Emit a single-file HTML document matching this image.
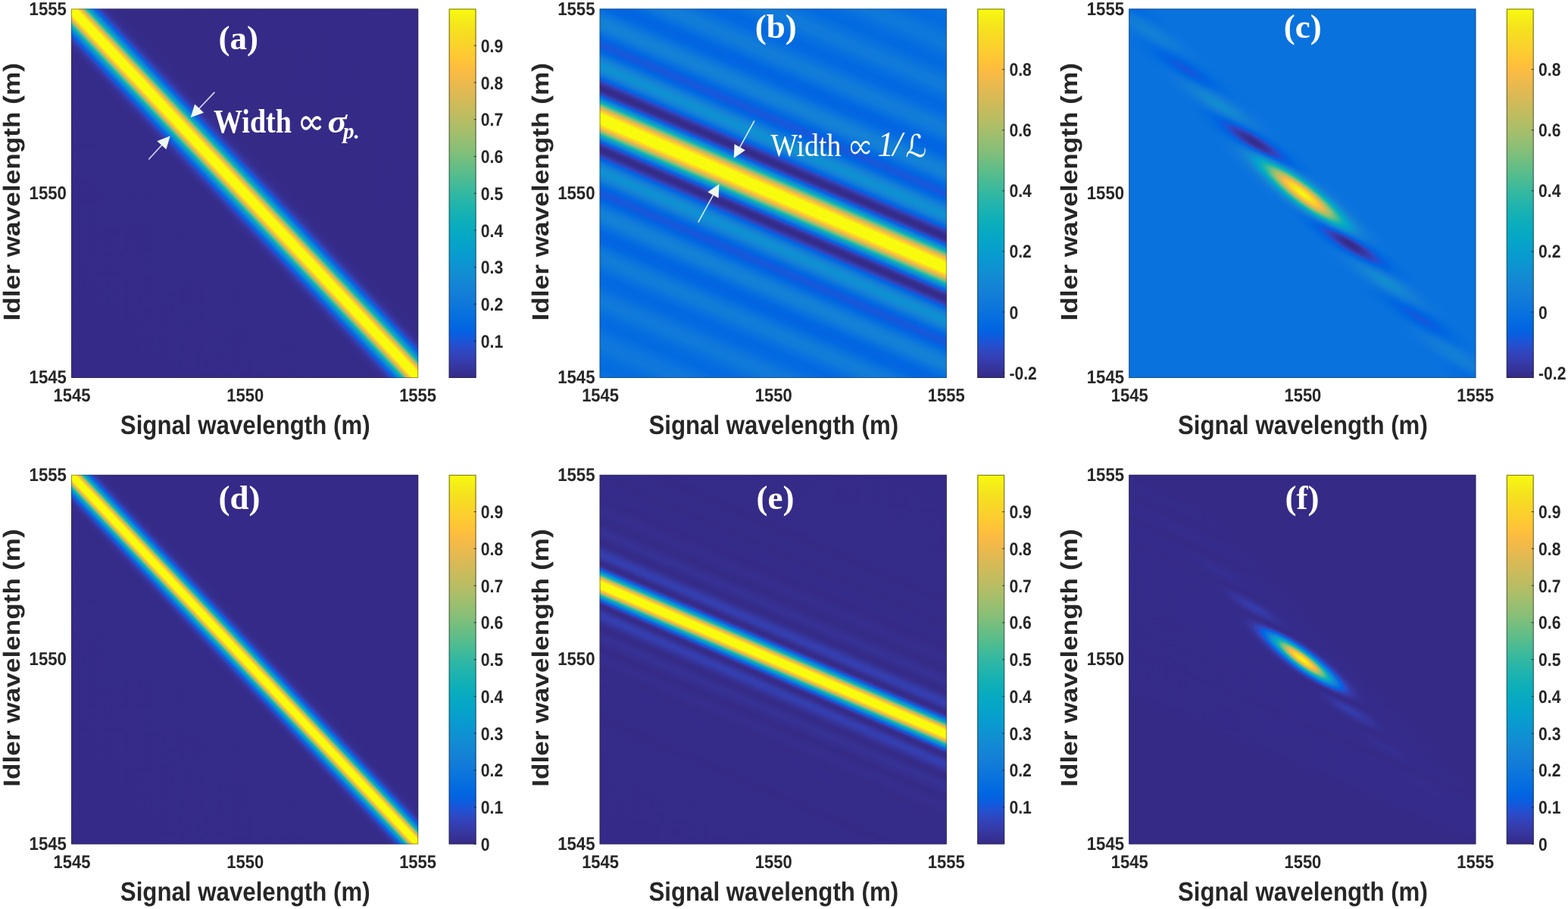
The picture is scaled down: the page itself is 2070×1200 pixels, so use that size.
<!DOCTYPE html>
<html><head><meta charset="utf-8"><title>JSA figure</title>
<style>html,body{margin:0;padding:0;background:#fff;width:2070px;height:1200px;overflow:hidden;}svg{display:block;}</style>
</head><body>
<svg width="2070" height="1200" viewBox="0 0 2070 1200">
<defs><linearGradient id="ga" gradientUnits="userSpaceOnUse" x1="79.57" y1="484.14" x2="566.63" y2="26.36"><stop offset="0.0000" stop-color="#352a87"/><stop offset="0.4401" stop-color="#352b88"/><stop offset="0.4488" stop-color="#362e8e"/><stop offset="0.4538" stop-color="#363399"/><stop offset="0.4578" stop-color="#353ba9"/><stop offset="0.4608" stop-color="#3045bd"/><stop offset="0.4622" stop-color="#2a4bc8"/><stop offset="0.4635" stop-color="#1e54d5"/><stop offset="0.4648" stop-color="#0c5ede"/><stop offset="0.4655" stop-color="#0462e1"/><stop offset="0.4665" stop-color="#0268e1"/><stop offset="0.4685" stop-color="#0a72de"/><stop offset="0.4708" stop-color="#137fd6"/><stop offset="0.4722" stop-color="#1389d3"/><stop offset="0.4745" stop-color="#079dcf"/><stop offset="0.4762" stop-color="#06a8c4"/><stop offset="0.4768" stop-color="#0aacbd"/><stop offset="0.4778" stop-color="#18b1b2"/><stop offset="0.4792" stop-color="#32b8a1"/><stop offset="0.4805" stop-color="#55bd8e"/><stop offset="0.4822" stop-color="#85bf78"/><stop offset="0.4842" stop-color="#b6bd64"/><stop offset="0.4868" stop-color="#edb94c"/><stop offset="0.4875" stop-color="#f9bb43"/><stop offset="0.4878" stop-color="#fdbe3e"/><stop offset="0.4888" stop-color="#fdca31"/><stop offset="0.4908" stop-color="#f5e11f"/><stop offset="0.4922" stop-color="#f6f213"/><stop offset="0.4928" stop-color="#f9fb0e"/><stop offset="0.5072" stop-color="#f9fb0e"/><stop offset="0.5088" stop-color="#f5e51c"/><stop offset="0.5108" stop-color="#fccd2e"/><stop offset="0.5118" stop-color="#fec239"/><stop offset="0.5122" stop-color="#fdbe3e"/><stop offset="0.5128" stop-color="#f3ba48"/><stop offset="0.5155" stop-color="#bebc61"/><stop offset="0.5175" stop-color="#8ebf74"/><stop offset="0.5192" stop-color="#5fbe89"/><stop offset="0.5205" stop-color="#3ab99d"/><stop offset="0.5218" stop-color="#1db3af"/><stop offset="0.5228" stop-color="#0eaeba"/><stop offset="0.5235" stop-color="#08aac1"/><stop offset="0.5248" stop-color="#06a2cb"/><stop offset="0.5262" stop-color="#0998d1"/><stop offset="0.5278" stop-color="#1389d3"/><stop offset="0.5295" stop-color="#137dd8"/><stop offset="0.5332" stop-color="#026ae1"/><stop offset="0.5342" stop-color="#0364e1"/><stop offset="0.5345" stop-color="#0462e1"/><stop offset="0.5355" stop-color="#105bdd"/><stop offset="0.5368" stop-color="#2251d2"/><stop offset="0.5382" stop-color="#2c4ac5"/><stop offset="0.5402" stop-color="#3341b5"/><stop offset="0.5435" stop-color="#3638a2"/><stop offset="0.5478" stop-color="#363194"/><stop offset="0.5542" stop-color="#352c8b"/><stop offset="0.5675" stop-color="#352b87"/><stop offset="1.0000" stop-color="#352a87"/></linearGradient>
<linearGradient id="gb" gradientUnits="userSpaceOnUse" x1="896.06" y1="544.50" x2="1145.34" y2="-34.00"><stop offset="0.0000" stop-color="#0c74dd"/><stop offset="0.0230" stop-color="#046ce0"/><stop offset="0.0400" stop-color="#066fdf"/><stop offset="0.0630" stop-color="#1078da"/><stop offset="0.0790" stop-color="#0e76dc"/><stop offset="0.1034" stop-color="#036be0"/><stop offset="0.1177" stop-color="#046ce0"/><stop offset="0.1447" stop-color="#107ada"/><stop offset="0.1591" stop-color="#1078da"/><stop offset="0.1841" stop-color="#036ae1"/><stop offset="0.1967" stop-color="#0269e1"/><stop offset="0.2094" stop-color="#0870df"/><stop offset="0.2247" stop-color="#117bd9"/><stop offset="0.2374" stop-color="#127cd8"/><stop offset="0.2497" stop-color="#0c75dc"/><stop offset="0.2628" stop-color="#0269e1"/><stop offset="0.2741" stop-color="#0364e1"/><stop offset="0.2848" stop-color="#0269e1"/><stop offset="0.2948" stop-color="#0a73dd"/><stop offset="0.3051" stop-color="#137dd8"/><stop offset="0.3161" stop-color="#1482d5"/><stop offset="0.3264" stop-color="#127cd8"/><stop offset="0.3351" stop-color="#0a72de"/><stop offset="0.3424" stop-color="#0268e1"/><stop offset="0.3464" stop-color="#0462e1"/><stop offset="0.3541" stop-color="#1558da"/><stop offset="0.3585" stop-color="#1758d9"/><stop offset="0.3631" stop-color="#0f5cde"/><stop offset="0.3678" stop-color="#0363e1"/><stop offset="0.3718" stop-color="#036ae1"/><stop offset="0.3828" stop-color="#137dd7"/><stop offset="0.3895" stop-color="#1389d3"/><stop offset="0.3968" stop-color="#0e90d2"/><stop offset="0.4031" stop-color="#108fd2"/><stop offset="0.4111" stop-color="#1481d5"/><stop offset="0.4158" stop-color="#0e77db"/><stop offset="0.4211" stop-color="#0268e1"/><stop offset="0.4225" stop-color="#0363e1"/><stop offset="0.4245" stop-color="#1359db"/><stop offset="0.4261" stop-color="#2450d0"/><stop offset="0.4278" stop-color="#2e48c2"/><stop offset="0.4301" stop-color="#343fb1"/><stop offset="0.4341" stop-color="#363399"/><stop offset="0.4378" stop-color="#352c8b"/><stop offset="0.4411" stop-color="#352a87"/><stop offset="0.4445" stop-color="#352d8c"/><stop offset="0.4475" stop-color="#363399"/><stop offset="0.4505" stop-color="#353eae"/><stop offset="0.4525" stop-color="#2e48c2"/><stop offset="0.4538" stop-color="#2251d1"/><stop offset="0.4552" stop-color="#0e5cde"/><stop offset="0.4562" stop-color="#0364e1"/><stop offset="0.4572" stop-color="#0269e1"/><stop offset="0.4605" stop-color="#127bd9"/><stop offset="0.4622" stop-color="#1486d4"/><stop offset="0.4635" stop-color="#0f90d2"/><stop offset="0.4648" stop-color="#079bd0"/><stop offset="0.4668" stop-color="#06a7c5"/><stop offset="0.4678" stop-color="#0aacbe"/><stop offset="0.4692" stop-color="#19b2b2"/><stop offset="0.4708" stop-color="#33b8a1"/><stop offset="0.4728" stop-color="#5dbe8a"/><stop offset="0.4752" stop-color="#8fbf74"/><stop offset="0.4778" stop-color="#bdbd61"/><stop offset="0.4815" stop-color="#f2b949"/><stop offset="0.4825" stop-color="#fcbd3f"/><stop offset="0.4835" stop-color="#fec536"/><stop offset="0.4875" stop-color="#f5e41d"/><stop offset="0.4898" stop-color="#f8f810"/><stop offset="0.4902" stop-color="#f9fb0e"/><stop offset="0.5098" stop-color="#f9fb0e"/><stop offset="0.5122" stop-color="#f5e71b"/><stop offset="0.5145" stop-color="#f9d429"/><stop offset="0.5168" stop-color="#fec239"/><stop offset="0.5178" stop-color="#f9bb43"/><stop offset="0.5195" stop-color="#e4b951"/><stop offset="0.5228" stop-color="#b2bd66"/><stop offset="0.5252" stop-color="#88bf76"/><stop offset="0.5275" stop-color="#55bd8d"/><stop offset="0.5292" stop-color="#33b8a1"/><stop offset="0.5308" stop-color="#19b2b2"/><stop offset="0.5322" stop-color="#0aacbe"/><stop offset="0.5332" stop-color="#06a7c5"/><stop offset="0.5352" stop-color="#079bd0"/><stop offset="0.5375" stop-color="#1388d3"/><stop offset="0.5392" stop-color="#137dd8"/><stop offset="0.5425" stop-color="#036be0"/><stop offset="0.5435" stop-color="#0266e1"/><stop offset="0.5442" stop-color="#0661e0"/><stop offset="0.5452" stop-color="#1359db"/><stop offset="0.5462" stop-color="#2251d1"/><stop offset="0.5475" stop-color="#2e48c2"/><stop offset="0.5495" stop-color="#353eae"/><stop offset="0.5525" stop-color="#363399"/><stop offset="0.5555" stop-color="#352d8c"/><stop offset="0.5589" stop-color="#352a87"/><stop offset="0.5622" stop-color="#352c8b"/><stop offset="0.5659" stop-color="#363399"/><stop offset="0.5699" stop-color="#343fb1"/><stop offset="0.5722" stop-color="#2e48c2"/><stop offset="0.5739" stop-color="#2450d0"/><stop offset="0.5755" stop-color="#1359db"/><stop offset="0.5775" stop-color="#0363e1"/><stop offset="0.5795" stop-color="#036ae1"/><stop offset="0.5862" stop-color="#127cd9"/><stop offset="0.5912" stop-color="#1486d4"/><stop offset="0.5982" stop-color="#0f90d2"/><stop offset="0.6045" stop-color="#0f90d2"/><stop offset="0.6135" stop-color="#1484d4"/><stop offset="0.6202" stop-color="#0f78db"/><stop offset="0.6285" stop-color="#026ae1"/><stop offset="0.6329" stop-color="#0462e1"/><stop offset="0.6399" stop-color="#1559da"/><stop offset="0.6442" stop-color="#1758d9"/><stop offset="0.6489" stop-color="#105cdd"/><stop offset="0.6546" stop-color="#0364e1"/><stop offset="0.6589" stop-color="#036ae1"/><stop offset="0.6726" stop-color="#127bd9"/><stop offset="0.6832" stop-color="#1482d5"/><stop offset="0.6939" stop-color="#137ed7"/><stop offset="0.7042" stop-color="#0c74dd"/><stop offset="0.7146" stop-color="#026ae1"/><stop offset="0.7252" stop-color="#0364e1"/><stop offset="0.7359" stop-color="#0268e1"/><stop offset="0.7479" stop-color="#0a73de"/><stop offset="0.7599" stop-color="#127bd9"/><stop offset="0.7723" stop-color="#127cd8"/><stop offset="0.7856" stop-color="#0c74dd"/><stop offset="0.7999" stop-color="#036ae1"/><stop offset="0.8126" stop-color="#0269e1"/><stop offset="0.8266" stop-color="#0770df"/><stop offset="0.8429" stop-color="#1079da"/><stop offset="0.8573" stop-color="#1079da"/><stop offset="0.8853" stop-color="#036be0"/><stop offset="0.9000" stop-color="#046ce0"/><stop offset="0.9270" stop-color="#0f78da"/><stop offset="0.9430" stop-color="#0e77db"/><stop offset="0.9693" stop-color="#046ce0"/><stop offset="0.9867" stop-color="#066fdf"/><stop offset="1.0000" stop-color="#0c74dd"/></linearGradient>
<linearGradient id="gcA" gradientUnits="userSpaceOnUse" x1="1475.77" y1="484.14" x2="1962.83" y2="26.36"><stop offset="0.0000" stop-color="#000000"/><stop offset="0.4425" stop-color="#010101"/><stop offset="0.4518" stop-color="#040404"/><stop offset="0.4575" stop-color="#090909"/><stop offset="0.4618" stop-color="#121212"/><stop offset="0.4655" stop-color="#1d1d1d"/><stop offset="0.4688" stop-color="#2b2b2b"/><stop offset="0.4722" stop-color="#3e3e3e"/><stop offset="0.4755" stop-color="#555555"/><stop offset="0.4792" stop-color="#747474"/><stop offset="0.4882" stop-color="#c6c6c6"/><stop offset="0.4912" stop-color="#dddddd"/><stop offset="0.4938" stop-color="#eeeeee"/><stop offset="0.4962" stop-color="#f8f8f8"/><stop offset="0.4985" stop-color="#fefefe"/><stop offset="0.5005" stop-color="#ffffff"/><stop offset="0.5025" stop-color="#fcfcfc"/><stop offset="0.5048" stop-color="#f4f4f4"/><stop offset="0.5072" stop-color="#e8e8e8"/><stop offset="0.5098" stop-color="#d6d6d6"/><stop offset="0.5132" stop-color="#bababa"/><stop offset="0.5215" stop-color="#6e6e6e"/><stop offset="0.5252" stop-color="#505050"/><stop offset="0.5285" stop-color="#3a3a3a"/><stop offset="0.5318" stop-color="#282828"/><stop offset="0.5352" stop-color="#1b1b1b"/><stop offset="0.5388" stop-color="#101010"/><stop offset="0.5435" stop-color="#080808"/><stop offset="0.5495" stop-color="#030303"/><stop offset="0.5602" stop-color="#000000"/><stop offset="1.0000" stop-color="#000000"/></linearGradient>
<linearGradient id="gcB" gradientUnits="userSpaceOnUse" x1="1594.66" y1="544.50" x2="1843.94" y2="-34.00"><stop offset="0.0000" stop-color="#35ffff"/><stop offset="0.0210" stop-color="#2effff"/><stop offset="0.0330" stop-color="#2effff"/><stop offset="0.0524" stop-color="#35ffff"/><stop offset="0.0657" stop-color="#39ffff"/><stop offset="0.0774" stop-color="#38ffff"/><stop offset="0.1030" stop-color="#2dffff"/><stop offset="0.1140" stop-color="#2dffff"/><stop offset="0.1274" stop-color="#32ffff"/><stop offset="0.1437" stop-color="#3affff"/><stop offset="0.1541" stop-color="#3affff"/><stop offset="0.1657" stop-color="#36ffff"/><stop offset="0.1841" stop-color="#2cffff"/><stop offset="0.1937" stop-color="#2affff"/><stop offset="0.2041" stop-color="#2effff"/><stop offset="0.2251" stop-color="#3bffff"/><stop offset="0.2344" stop-color="#3dffff"/><stop offset="0.2437" stop-color="#3affff"/><stop offset="0.2661" stop-color="#29ffff"/><stop offset="0.2748" stop-color="#27ffff"/><stop offset="0.2831" stop-color="#2affff"/><stop offset="0.2944" stop-color="#33ffff"/><stop offset="0.3071" stop-color="#3fffff"/><stop offset="0.3148" stop-color="#41ffff"/><stop offset="0.3221" stop-color="#40ffff"/><stop offset="0.3304" stop-color="#39ffff"/><stop offset="0.3471" stop-color="#25ffff"/><stop offset="0.3545" stop-color="#21ffff"/><stop offset="0.3608" stop-color="#21ffff"/><stop offset="0.3675" stop-color="#26ffff"/><stop offset="0.3758" stop-color="#32ffff"/><stop offset="0.3881" stop-color="#46ffff"/><stop offset="0.3945" stop-color="#4cffff"/><stop offset="0.4001" stop-color="#4dffff"/><stop offset="0.4055" stop-color="#4affff"/><stop offset="0.4111" stop-color="#41ffff"/><stop offset="0.4181" stop-color="#32ffff"/><stop offset="0.4298" stop-color="#14ffff"/><stop offset="0.4351" stop-color="#0bffff"/><stop offset="0.4395" stop-color="#07ffff"/><stop offset="0.4435" stop-color="#07ffff"/><stop offset="0.4475" stop-color="#0cffff"/><stop offset="0.4515" stop-color="#16ffff"/><stop offset="0.4555" stop-color="#24ffff"/><stop offset="0.4598" stop-color="#38ffff"/><stop offset="0.4645" stop-color="#53ffff"/><stop offset="0.4715" stop-color="#80ffff"/><stop offset="0.4798" stop-color="#b8ffff"/><stop offset="0.4845" stop-color="#d3ffff"/><stop offset="0.4885" stop-color="#e6ffff"/><stop offset="0.4922" stop-color="#f3ffff"/><stop offset="0.4955" stop-color="#fbffff"/><stop offset="0.4988" stop-color="#ffffff"/><stop offset="0.5022" stop-color="#feffff"/><stop offset="0.5055" stop-color="#f9ffff"/><stop offset="0.5092" stop-color="#efffff"/><stop offset="0.5128" stop-color="#e0ffff"/><stop offset="0.5172" stop-color="#c9ffff"/><stop offset="0.5225" stop-color="#a9ffff"/><stop offset="0.5342" stop-color="#5bffff"/><stop offset="0.5392" stop-color="#3dffff"/><stop offset="0.5435" stop-color="#28ffff"/><stop offset="0.5475" stop-color="#19ffff"/><stop offset="0.5515" stop-color="#0effff"/><stop offset="0.5555" stop-color="#08ffff"/><stop offset="0.5595" stop-color="#07ffff"/><stop offset="0.5639" stop-color="#0affff"/><stop offset="0.5689" stop-color="#12ffff"/><stop offset="0.5765" stop-color="#24ffff"/><stop offset="0.5862" stop-color="#3cffff"/><stop offset="0.5922" stop-color="#47ffff"/><stop offset="0.5975" stop-color="#4cffff"/><stop offset="0.6029" stop-color="#4dffff"/><stop offset="0.6089" stop-color="#49ffff"/><stop offset="0.6165" stop-color="#3fffff"/><stop offset="0.6299" stop-color="#29ffff"/><stop offset="0.6369" stop-color="#22ffff"/><stop offset="0.6432" stop-color="#20ffff"/><stop offset="0.6499" stop-color="#23ffff"/><stop offset="0.6589" stop-color="#2cffff"/><stop offset="0.6729" stop-color="#3cffff"/><stop offset="0.6806" stop-color="#41ffff"/><stop offset="0.6879" stop-color="#41ffff"/><stop offset="0.6966" stop-color="#3cffff"/><stop offset="0.7152" stop-color="#2bffff"/><stop offset="0.7236" stop-color="#27ffff"/><stop offset="0.7319" stop-color="#28ffff"/><stop offset="0.7429" stop-color="#2fffff"/><stop offset="0.7576" stop-color="#3affff"/><stop offset="0.7666" stop-color="#3dffff"/><stop offset="0.7759" stop-color="#3bffff"/><stop offset="0.7999" stop-color="#2cffff"/><stop offset="0.8096" stop-color="#2affff"/><stop offset="0.8203" stop-color="#2effff"/><stop offset="0.8413" stop-color="#39ffff"/><stop offset="0.8516" stop-color="#3bffff"/><stop offset="0.8633" stop-color="#37ffff"/><stop offset="0.8833" stop-color="#2dffff"/><stop offset="0.8943" stop-color="#2cffff"/><stop offset="0.9076" stop-color="#31ffff"/><stop offset="0.9253" stop-color="#38ffff"/><stop offset="0.9366" stop-color="#39ffff"/><stop offset="0.9520" stop-color="#34ffff"/><stop offset="0.9680" stop-color="#2effff"/><stop offset="0.9800" stop-color="#2effff"/><stop offset="1.0000" stop-color="#35ffff"/></linearGradient>
<filter id="fc" filterUnits="userSpaceOnUse" x="1487.00" y="8.00" width="465.00" height="494.00" color-interpolation-filters="sRGB"><feColorMatrix type="matrix" values="1.02692 -0.20538 0 0 0.17847 1.02692 -0.20538 0 0 0.17847 1.02692 -0.20538 0 0 0.17847 0 0 0 1 0"/><feComponentTransfer><feFuncR type="table" tableValues="0.2081 0.2116 0.2123 0.2081 0.1959 0.1707 0.1253 0.0591 0.0117 0.0060 0.0165 0.0329 0.0498 0.0629 0.0723 0.0779 0.0793 0.0749 0.0641 0.0488 0.0343 0.0265 0.0239 0.0231 0.0228 0.0267 0.0384 0.0590 0.0843 0.1133 0.1453 0.1801 0.2178 0.2586 0.3022 0.3482 0.3953 0.4420 0.4871 0.5300 0.5709 0.6099 0.6473 0.6834 0.7184 0.7525 0.7858 0.8185 0.8507 0.8824 0.9139 0.9450 0.9739 0.9938 0.9990 0.9955 0.9880 0.9789 0.9697 0.9626 0.9589 0.9598 0.9661 0.9763"/><feFuncG type="table" tableValues="0.1663 0.1898 0.2138 0.2386 0.2645 0.2919 0.3242 0.3598 0.3875 0.4086 0.4266 0.4430 0.4586 0.4737 0.4887 0.5040 0.5200 0.5375 0.5570 0.5772 0.5966 0.6137 0.6287 0.6418 0.6535 0.6642 0.6743 0.6838 0.6928 0.7015 0.7098 0.7177 0.7250 0.7317 0.7376 0.7424 0.7459 0.7481 0.7491 0.7491 0.7485 0.7473 0.7456 0.7435 0.7411 0.7384 0.7356 0.7327 0.7299 0.7274 0.7258 0.7261 0.7314 0.7455 0.7653 0.7861 0.8066 0.8271 0.8481 0.8705 0.8949 0.9218 0.9514 0.9831"/><feFuncB type="table" tableValues="0.5292 0.5777 0.6270 0.6771 0.7279 0.7792 0.8303 0.8683 0.8820 0.8828 0.8786 0.8720 0.8641 0.8554 0.8467 0.8384 0.8312 0.8263 0.8240 0.8228 0.8199 0.8135 0.8038 0.7913 0.7768 0.7607 0.7436 0.7254 0.7062 0.6859 0.6646 0.6424 0.6193 0.5954 0.5712 0.5473 0.5244 0.5033 0.4840 0.4661 0.4494 0.4337 0.4188 0.4044 0.3905 0.3768 0.3633 0.3498 0.3360 0.3217 0.3063 0.2886 0.2666 0.2403 0.2164 0.1967 0.1794 0.1633 0.1475 0.1309 0.1132 0.0948 0.0755 0.0538"/></feComponentTransfer></filter>
<clipPath id="cpc"><rect x="1490.20" y="11.50" width="458.20" height="487.50"/></clipPath>
<linearGradient id="gd" gradientUnits="userSpaceOnUse" x1="79.48" y1="1099.53" x2="566.72" y2="641.77"><stop offset="0.0000" stop-color="#352a87"/><stop offset="0.4542" stop-color="#352b88"/><stop offset="0.4608" stop-color="#362e8e"/><stop offset="0.4648" stop-color="#363399"/><stop offset="0.4678" stop-color="#353ba9"/><stop offset="0.4702" stop-color="#3045bd"/><stop offset="0.4712" stop-color="#2a4cc9"/><stop offset="0.4722" stop-color="#1e54d5"/><stop offset="0.4732" stop-color="#0c5ede"/><stop offset="0.4738" stop-color="#0364e1"/><stop offset="0.4745" stop-color="#0268e1"/><stop offset="0.4762" stop-color="#0b74dd"/><stop offset="0.4778" stop-color="#1480d6"/><stop offset="0.4788" stop-color="#1389d3"/><stop offset="0.4805" stop-color="#079dcf"/><stop offset="0.4818" stop-color="#06a8c3"/><stop offset="0.4825" stop-color="#0dadbb"/><stop offset="0.4835" stop-color="#22b4ac"/><stop offset="0.4845" stop-color="#3fba9a"/><stop offset="0.4862" stop-color="#7dbf7b"/><stop offset="0.4875" stop-color="#aabe69"/><stop offset="0.4895" stop-color="#e2b952"/><stop offset="0.4902" stop-color="#f3b948"/><stop offset="0.4905" stop-color="#fabb42"/><stop offset="0.4908" stop-color="#fec03c"/><stop offset="0.4915" stop-color="#fdca31"/><stop offset="0.4932" stop-color="#f5e31d"/><stop offset="0.4942" stop-color="#f7f512"/><stop offset="0.4945" stop-color="#f9fb0e"/><stop offset="0.5055" stop-color="#f9fb0e"/><stop offset="0.5065" stop-color="#f5e919"/><stop offset="0.5075" stop-color="#f7d925"/><stop offset="0.5088" stop-color="#fec536"/><stop offset="0.5092" stop-color="#fec03c"/><stop offset="0.5095" stop-color="#fabb42"/><stop offset="0.5102" stop-color="#eab94d"/><stop offset="0.5122" stop-color="#b4bd65"/><stop offset="0.5135" stop-color="#89bf76"/><stop offset="0.5148" stop-color="#57bd8d"/><stop offset="0.5158" stop-color="#34b8a0"/><stop offset="0.5168" stop-color="#1ab2b1"/><stop offset="0.5175" stop-color="#0dadbb"/><stop offset="0.5182" stop-color="#06a8c3"/><stop offset="0.5195" stop-color="#079dcf"/><stop offset="0.5212" stop-color="#1389d3"/><stop offset="0.5222" stop-color="#1480d6"/><stop offset="0.5238" stop-color="#0b74dd"/><stop offset="0.5255" stop-color="#0268e1"/><stop offset="0.5262" stop-color="#0364e1"/><stop offset="0.5272" stop-color="#115bdc"/><stop offset="0.5282" stop-color="#2251d1"/><stop offset="0.5292" stop-color="#2d49c5"/><stop offset="0.5308" stop-color="#3340b4"/><stop offset="0.5335" stop-color="#3637a1"/><stop offset="0.5368" stop-color="#363093"/><stop offset="0.5418" stop-color="#352c8b"/><stop offset="0.5532" stop-color="#352a87"/><stop offset="1.0000" stop-color="#352a87"/></linearGradient>
<linearGradient id="ge" gradientUnits="userSpaceOnUse" x1="895.98" y1="1159.98" x2="1145.42" y2="581.32"><stop offset="0.0000" stop-color="#352a87"/><stop offset="0.1861" stop-color="#352b88"/><stop offset="0.2231" stop-color="#352b88"/><stop offset="0.2461" stop-color="#352b87"/><stop offset="0.2678" stop-color="#352b89"/><stop offset="0.2871" stop-color="#352b88"/><stop offset="0.3031" stop-color="#352b88"/><stop offset="0.3194" stop-color="#352c8b"/><stop offset="0.3381" stop-color="#352b87"/><stop offset="0.3581" stop-color="#362e8e"/><stop offset="0.3775" stop-color="#352a87"/><stop offset="0.3875" stop-color="#362e8d"/><stop offset="0.3978" stop-color="#363195"/><stop offset="0.4055" stop-color="#363091"/><stop offset="0.4165" stop-color="#352a87"/><stop offset="0.4221" stop-color="#352c8a"/><stop offset="0.4285" stop-color="#363297"/><stop offset="0.4371" stop-color="#353dad"/><stop offset="0.4415" stop-color="#343fb0"/><stop offset="0.4458" stop-color="#353cab"/><stop offset="0.4528" stop-color="#363194"/><stop offset="0.4572" stop-color="#352b88"/><stop offset="0.4602" stop-color="#352b88"/><stop offset="0.4625" stop-color="#362e8f"/><stop offset="0.4648" stop-color="#36369e"/><stop offset="0.4668" stop-color="#3341b4"/><stop offset="0.4682" stop-color="#2b4bc7"/><stop offset="0.4688" stop-color="#2152d2"/><stop offset="0.4698" stop-color="#0c5ede"/><stop offset="0.4702" stop-color="#0661e0"/><stop offset="0.4705" stop-color="#0364e1"/><stop offset="0.4712" stop-color="#036ae1"/><stop offset="0.4735" stop-color="#127cd8"/><stop offset="0.4745" stop-color="#1484d4"/><stop offset="0.4755" stop-color="#108fd2"/><stop offset="0.4765" stop-color="#089ad0"/><stop offset="0.4778" stop-color="#06a6c7"/><stop offset="0.4785" stop-color="#09abbf"/><stop offset="0.4792" stop-color="#12afb7"/><stop offset="0.4802" stop-color="#27b5a8"/><stop offset="0.4812" stop-color="#42bb98"/><stop offset="0.4828" stop-color="#79bf7d"/><stop offset="0.4842" stop-color="#a0be6d"/><stop offset="0.4862" stop-color="#d2bb59"/><stop offset="0.4878" stop-color="#f5ba47"/><stop offset="0.4885" stop-color="#febf3c"/><stop offset="0.4892" stop-color="#fec833"/><stop offset="0.4912" stop-color="#f5e11f"/><stop offset="0.4925" stop-color="#f7f313"/><stop offset="0.4932" stop-color="#f9fb0e"/><stop offset="0.5068" stop-color="#f9fb0e"/><stop offset="0.5075" stop-color="#f7f313"/><stop offset="0.5088" stop-color="#f5e11f"/><stop offset="0.5112" stop-color="#ffc437"/><stop offset="0.5115" stop-color="#febf3c"/><stop offset="0.5122" stop-color="#f5ba47"/><stop offset="0.5138" stop-color="#d2bb59"/><stop offset="0.5158" stop-color="#a0be6d"/><stop offset="0.5172" stop-color="#79bf7d"/><stop offset="0.5188" stop-color="#42bb98"/><stop offset="0.5198" stop-color="#27b5a8"/><stop offset="0.5208" stop-color="#12afb7"/><stop offset="0.5215" stop-color="#09abbf"/><stop offset="0.5222" stop-color="#06a6c7"/><stop offset="0.5235" stop-color="#089ad0"/><stop offset="0.5252" stop-color="#1487d3"/><stop offset="0.5262" stop-color="#137ed7"/><stop offset="0.5278" stop-color="#0972de"/><stop offset="0.5288" stop-color="#036ae1"/><stop offset="0.5295" stop-color="#0364e1"/><stop offset="0.5298" stop-color="#0661e0"/><stop offset="0.5305" stop-color="#135adb"/><stop offset="0.5312" stop-color="#2152d2"/><stop offset="0.5318" stop-color="#2b4bc7"/><stop offset="0.5332" stop-color="#3341b4"/><stop offset="0.5352" stop-color="#36369e"/><stop offset="0.5375" stop-color="#362e8f"/><stop offset="0.5402" stop-color="#352b87"/><stop offset="0.5432" stop-color="#352b89"/><stop offset="0.5482" stop-color="#363297"/><stop offset="0.5542" stop-color="#353cab"/><stop offset="0.5585" stop-color="#343fb0"/><stop offset="0.5632" stop-color="#353dac"/><stop offset="0.5762" stop-color="#352d8c"/><stop offset="0.5819" stop-color="#352a87"/><stop offset="0.5892" stop-color="#352d8c"/><stop offset="0.5995" stop-color="#363195"/><stop offset="0.6075" stop-color="#363092"/><stop offset="0.6209" stop-color="#352b87"/><stop offset="0.6312" stop-color="#352c8a"/><stop offset="0.6439" stop-color="#362e8e"/><stop offset="0.6656" stop-color="#352a87"/><stop offset="0.6876" stop-color="#352c8b"/><stop offset="0.7092" stop-color="#352b87"/><stop offset="0.7312" stop-color="#352c89"/><stop offset="0.7536" stop-color="#352b87"/><stop offset="0.7766" stop-color="#352b88"/><stop offset="0.8019" stop-color="#352b88"/><stop offset="1.0000" stop-color="#352a87"/></linearGradient>
<linearGradient id="gfA" gradientUnits="userSpaceOnUse" x1="1475.68" y1="1099.53" x2="1962.92" y2="641.77"><stop offset="0.0000" stop-color="#000000"/><stop offset="0.4562" stop-color="#010101"/><stop offset="0.4632" stop-color="#040404"/><stop offset="0.4675" stop-color="#090909"/><stop offset="0.4708" stop-color="#121212"/><stop offset="0.4735" stop-color="#1c1c1c"/><stop offset="0.4762" stop-color="#2b2b2b"/><stop offset="0.4785" stop-color="#3c3c3c"/><stop offset="0.4808" stop-color="#515151"/><stop offset="0.4835" stop-color="#6d6d6d"/><stop offset="0.4878" stop-color="#a0a0a0"/><stop offset="0.4912" stop-color="#c8c8c8"/><stop offset="0.4935" stop-color="#dfdfdf"/><stop offset="0.4955" stop-color="#efefef"/><stop offset="0.4972" stop-color="#f9f9f9"/><stop offset="0.4988" stop-color="#fefefe"/><stop offset="0.5005" stop-color="#ffffff"/><stop offset="0.5022" stop-color="#fbfbfb"/><stop offset="0.5038" stop-color="#f4f4f4"/><stop offset="0.5055" stop-color="#e8e8e8"/><stop offset="0.5075" stop-color="#d6d6d6"/><stop offset="0.5102" stop-color="#b9b9b9"/><stop offset="0.5162" stop-color="#717171"/><stop offset="0.5188" stop-color="#545454"/><stop offset="0.5212" stop-color="#3f3f3f"/><stop offset="0.5235" stop-color="#2d2d2d"/><stop offset="0.5262" stop-color="#1e1e1e"/><stop offset="0.5288" stop-color="#131313"/><stop offset="0.5322" stop-color="#0a0a0a"/><stop offset="0.5362" stop-color="#040404"/><stop offset="0.5425" stop-color="#010101"/><stop offset="0.5769" stop-color="#000000"/><stop offset="1.0000" stop-color="#000000"/></linearGradient>
<linearGradient id="gfB" gradientUnits="userSpaceOnUse" x1="1594.58" y1="1159.98" x2="1844.02" y2="581.32"><stop offset="0.0000" stop-color="#000000"/><stop offset="0.2511" stop-color="#000000"/><stop offset="0.2848" stop-color="#000000"/><stop offset="0.3071" stop-color="#010101"/><stop offset="0.3268" stop-color="#010101"/><stop offset="0.3438" stop-color="#010101"/><stop offset="0.3608" stop-color="#020202"/><stop offset="0.3791" stop-color="#000000"/><stop offset="0.3991" stop-color="#040404"/><stop offset="0.4185" stop-color="#000000"/><stop offset="0.4261" stop-color="#030303"/><stop offset="0.4381" stop-color="#0b0b0b"/><stop offset="0.4438" stop-color="#0c0c0c"/><stop offset="0.4505" stop-color="#060606"/><stop offset="0.4572" stop-color="#000000"/><stop offset="0.4608" stop-color="#010101"/><stop offset="0.4638" stop-color="#050505"/><stop offset="0.4665" stop-color="#0c0c0c"/><stop offset="0.4692" stop-color="#171717"/><stop offset="0.4718" stop-color="#272727"/><stop offset="0.4745" stop-color="#3a3a3a"/><stop offset="0.4775" stop-color="#555555"/><stop offset="0.4818" stop-color="#808080"/><stop offset="0.4872" stop-color="#b7b7b7"/><stop offset="0.4902" stop-color="#d3d3d3"/><stop offset="0.4925" stop-color="#e4e4e4"/><stop offset="0.4948" stop-color="#f2f2f2"/><stop offset="0.4968" stop-color="#fafafa"/><stop offset="0.4988" stop-color="#fefefe"/><stop offset="0.5008" stop-color="#ffffff"/><stop offset="0.5028" stop-color="#fbfbfb"/><stop offset="0.5048" stop-color="#f4f4f4"/><stop offset="0.5072" stop-color="#e7e7e7"/><stop offset="0.5095" stop-color="#d5d5d5"/><stop offset="0.5125" stop-color="#bababa"/><stop offset="0.5178" stop-color="#848484"/><stop offset="0.5222" stop-color="#585858"/><stop offset="0.5252" stop-color="#3d3d3d"/><stop offset="0.5278" stop-color="#292929"/><stop offset="0.5305" stop-color="#191919"/><stop offset="0.5332" stop-color="#0d0d0d"/><stop offset="0.5358" stop-color="#050505"/><stop offset="0.5388" stop-color="#010101"/><stop offset="0.5425" stop-color="#000000"/><stop offset="0.5492" stop-color="#060606"/><stop offset="0.5559" stop-color="#0b0b0b"/><stop offset="0.5615" stop-color="#0c0c0c"/><stop offset="0.5712" stop-color="#050505"/><stop offset="0.5792" stop-color="#000000"/><stop offset="0.5875" stop-color="#010101"/><stop offset="0.6009" stop-color="#040404"/><stop offset="0.6162" stop-color="#010101"/><stop offset="0.6282" stop-color="#000000"/><stop offset="0.6459" stop-color="#020202"/><stop offset="0.6682" stop-color="#000000"/><stop offset="0.6909" stop-color="#010101"/><stop offset="0.7139" stop-color="#000000"/><stop offset="0.7399" stop-color="#000000"/><stop offset="1.0000" stop-color="#000000"/></linearGradient>
<filter id="ff" filterUnits="userSpaceOnUse" x="1487.00" y="623.00" width="465.00" height="495.00" color-interpolation-filters="sRGB"><feComponentTransfer><feFuncR type="table" tableValues="0.2081 0.2116 0.2123 0.2081 0.1959 0.1707 0.1253 0.0591 0.0117 0.0060 0.0165 0.0329 0.0498 0.0629 0.0723 0.0779 0.0793 0.0749 0.0641 0.0488 0.0343 0.0265 0.0239 0.0231 0.0228 0.0267 0.0384 0.0590 0.0843 0.1133 0.1453 0.1801 0.2178 0.2586 0.3022 0.3482 0.3953 0.4420 0.4871 0.5300 0.5709 0.6099 0.6473 0.6834 0.7184 0.7525 0.7858 0.8185 0.8507 0.8824 0.9139 0.9450 0.9739 0.9938 0.9990 0.9955 0.9880 0.9789 0.9697 0.9626 0.9589 0.9598 0.9661 0.9763"/><feFuncG type="table" tableValues="0.1663 0.1898 0.2138 0.2386 0.2645 0.2919 0.3242 0.3598 0.3875 0.4086 0.4266 0.4430 0.4586 0.4737 0.4887 0.5040 0.5200 0.5375 0.5570 0.5772 0.5966 0.6137 0.6287 0.6418 0.6535 0.6642 0.6743 0.6838 0.6928 0.7015 0.7098 0.7177 0.7250 0.7317 0.7376 0.7424 0.7459 0.7481 0.7491 0.7491 0.7485 0.7473 0.7456 0.7435 0.7411 0.7384 0.7356 0.7327 0.7299 0.7274 0.7258 0.7261 0.7314 0.7455 0.7653 0.7861 0.8066 0.8271 0.8481 0.8705 0.8949 0.9218 0.9514 0.9831"/><feFuncB type="table" tableValues="0.5292 0.5777 0.6270 0.6771 0.7279 0.7792 0.8303 0.8683 0.8820 0.8828 0.8786 0.8720 0.8641 0.8554 0.8467 0.8384 0.8312 0.8263 0.8240 0.8228 0.8199 0.8135 0.8038 0.7913 0.7768 0.7607 0.7436 0.7254 0.7062 0.6859 0.6646 0.6424 0.6193 0.5954 0.5712 0.5473 0.5244 0.5033 0.4840 0.4661 0.4494 0.4337 0.4188 0.4044 0.3905 0.3768 0.3633 0.3498 0.3360 0.3217 0.3063 0.2886 0.2666 0.2403 0.2164 0.1967 0.1794 0.1633 0.1475 0.1309 0.1132 0.0948 0.0755 0.0538"/></feComponentTransfer></filter>
<clipPath id="cpf"><rect x="1490.20" y="626.80" width="458.20" height="487.70"/></clipPath>
<linearGradient id="cbg" x1="0" y1="1" x2="0" y2="0"><stop offset="0.0000" stop-color="#352a87"/><stop offset="0.0401" stop-color="#363aa7"/><stop offset="0.0652" stop-color="#3144bb"/><stop offset="0.0827" stop-color="#294cc9"/><stop offset="0.0977" stop-color="#1d54d5"/><stop offset="0.1128" stop-color="#0e5cde"/><stop offset="0.1278" stop-color="#0363e1"/><stop offset="0.1454" stop-color="#0269e1"/><stop offset="0.1830" stop-color="#0b73dd"/><stop offset="0.2231" stop-color="#137dd8"/><stop offset="0.2581" stop-color="#1486d4"/><stop offset="0.2882" stop-color="#108fd2"/><stop offset="0.3258" stop-color="#089ad0"/><stop offset="0.3709" stop-color="#06a5c8"/><stop offset="0.4010" stop-color="#08aac1"/><stop offset="0.4236" stop-color="#0daeba"/><stop offset="0.4612" stop-color="#1db3af"/><stop offset="0.5088" stop-color="#38b99e"/><stop offset="0.5589" stop-color="#5bbd8a"/><stop offset="0.6190" stop-color="#87bf77"/><stop offset="0.6817" stop-color="#aebe67"/><stop offset="0.7794" stop-color="#e2b952"/><stop offset="0.8195" stop-color="#f6ba46"/><stop offset="0.8421" stop-color="#fdbe3d"/><stop offset="0.8647" stop-color="#fec635"/><stop offset="0.9474" stop-color="#f5e21e"/><stop offset="0.9799" stop-color="#f6f115"/><stop offset="1.0000" stop-color="#f9fb0e"/></linearGradient></defs>
<rect width="2070" height="1200" fill="#fff"/>
<rect x="94.00" y="11.50" width="458.20" height="487.50" fill="url(#ga)"/>
<rect x="94.50" y="12.00" width="457.20" height="486.50" fill="none" stroke="#262626" stroke-opacity="0.45" stroke-width="1"/>
<rect x="791.60" y="11.50" width="458.20" height="487.50" fill="url(#gb)"/>
<rect x="792.10" y="12.00" width="457.20" height="486.50" fill="none" stroke="#262626" stroke-opacity="0.45" stroke-width="1"/>
<g clip-path="url(#cpc)"><g filter="url(#fc)"><rect x="1487.00" y="8.00" width="465.00" height="494.00" fill="url(#gcA)"/><rect x="1487.00" y="8.00" width="465.00" height="494.00" fill="url(#gcB)" style="mix-blend-mode:multiply"/></g></g>
<rect x="1490.70" y="12.00" width="457.20" height="486.50" fill="none" stroke="#262626" stroke-opacity="0.45" stroke-width="1"/>
<rect x="94.00" y="626.80" width="458.20" height="487.70" fill="url(#gd)"/>
<rect x="94.50" y="627.30" width="457.20" height="486.70" fill="none" stroke="#262626" stroke-opacity="0.45" stroke-width="1"/>
<rect x="791.60" y="626.80" width="458.20" height="487.70" fill="url(#ge)"/>
<rect x="792.10" y="627.30" width="457.20" height="486.70" fill="none" stroke="#262626" stroke-opacity="0.45" stroke-width="1"/>
<g clip-path="url(#cpf)"><g filter="url(#ff)"><rect x="1487.00" y="623.00" width="465.00" height="495.00" fill="url(#gfA)"/><rect x="1487.00" y="623.00" width="465.00" height="495.00" fill="url(#gfB)" style="mix-blend-mode:multiply"/></g></g>
<rect x="1490.70" y="627.30" width="457.20" height="486.70" fill="none" stroke="#262626" stroke-opacity="0.45" stroke-width="1"/>
<text transform="translate(87.90 20.10) scale(0.9130 1)" font-size="24.30" text-anchor="end" font-family="Liberation Sans, Arial, sans-serif" font-weight="bold" fill="#262626" text-rendering="geometricPrecision">1555</text>
<text transform="translate(87.90 262.90) scale(0.9130 1)" font-size="24.30" text-anchor="end" font-family="Liberation Sans, Arial, sans-serif" font-weight="bold" fill="#262626" text-rendering="geometricPrecision">1550</text>
<text transform="translate(87.90 506.10) scale(0.9130 1)" font-size="24.30" text-anchor="end" font-family="Liberation Sans, Arial, sans-serif" font-weight="bold" fill="#262626" text-rendering="geometricPrecision">1545</text>
<text transform="translate(95.00 530.20) scale(0.9050 1)" font-size="24.30" text-anchor="middle" font-family="Liberation Sans, Arial, sans-serif" font-weight="bold" fill="#262626" text-rendering="geometricPrecision">1545</text>
<text transform="translate(323.70 530.20) scale(0.9050 1)" font-size="24.30" text-anchor="middle" font-family="Liberation Sans, Arial, sans-serif" font-weight="bold" fill="#262626" text-rendering="geometricPrecision">1550</text>
<text transform="translate(551.60 530.20) scale(0.9050 1)" font-size="24.30" text-anchor="middle" font-family="Liberation Sans, Arial, sans-serif" font-weight="bold" fill="#262626" text-rendering="geometricPrecision">1555</text>
<text transform="translate(323.70 573.20) scale(0.8925 1)" font-size="35.00" text-anchor="middle" font-family="Liberation Sans, Arial, sans-serif" font-weight="bold" fill="#262626" text-rendering="geometricPrecision">Signal wavelength (m)</text>
<text transform="translate(26.00 253.20) scale(0.8750 1) rotate(-90)" font-size="35.22" text-anchor="middle" font-family="Liberation Sans, Arial, sans-serif" font-weight="bold" fill="#262626" text-rendering="geometricPrecision">Idler wavelength (m)</text>
<rect x="592.60" y="11.50" width="36.00" height="487.50" fill="url(#cbg)"/>
<line x1="625.60" y1="450.25" x2="628.60" y2="450.25" stroke="#262626" stroke-width="1.2" stroke-opacity="0.8"/>
<text transform="translate(634.80 458.75) scale(0.8810 1)" font-size="24.00" text-anchor="start" font-family="Liberation Sans, Arial, sans-serif" font-weight="bold" fill="#262626" text-rendering="geometricPrecision">0.1</text>
<line x1="625.60" y1="401.50" x2="628.60" y2="401.50" stroke="#262626" stroke-width="1.2" stroke-opacity="0.8"/>
<text transform="translate(634.80 410.00) scale(0.8810 1)" font-size="24.00" text-anchor="start" font-family="Liberation Sans, Arial, sans-serif" font-weight="bold" fill="#262626" text-rendering="geometricPrecision">0.2</text>
<line x1="625.60" y1="352.75" x2="628.60" y2="352.75" stroke="#262626" stroke-width="1.2" stroke-opacity="0.8"/>
<text transform="translate(634.80 361.25) scale(0.8810 1)" font-size="24.00" text-anchor="start" font-family="Liberation Sans, Arial, sans-serif" font-weight="bold" fill="#262626" text-rendering="geometricPrecision">0.3</text>
<line x1="625.60" y1="304.00" x2="628.60" y2="304.00" stroke="#262626" stroke-width="1.2" stroke-opacity="0.8"/>
<text transform="translate(634.80 312.50) scale(0.8810 1)" font-size="24.00" text-anchor="start" font-family="Liberation Sans, Arial, sans-serif" font-weight="bold" fill="#262626" text-rendering="geometricPrecision">0.4</text>
<line x1="625.60" y1="255.25" x2="628.60" y2="255.25" stroke="#262626" stroke-width="1.2" stroke-opacity="0.8"/>
<text transform="translate(634.80 263.75) scale(0.8810 1)" font-size="24.00" text-anchor="start" font-family="Liberation Sans, Arial, sans-serif" font-weight="bold" fill="#262626" text-rendering="geometricPrecision">0.5</text>
<line x1="625.60" y1="206.50" x2="628.60" y2="206.50" stroke="#262626" stroke-width="1.2" stroke-opacity="0.8"/>
<text transform="translate(634.80 215.00) scale(0.8810 1)" font-size="24.00" text-anchor="start" font-family="Liberation Sans, Arial, sans-serif" font-weight="bold" fill="#262626" text-rendering="geometricPrecision">0.6</text>
<line x1="625.60" y1="157.75" x2="628.60" y2="157.75" stroke="#262626" stroke-width="1.2" stroke-opacity="0.8"/>
<text transform="translate(634.80 166.25) scale(0.8810 1)" font-size="24.00" text-anchor="start" font-family="Liberation Sans, Arial, sans-serif" font-weight="bold" fill="#262626" text-rendering="geometricPrecision">0.7</text>
<line x1="625.60" y1="109.00" x2="628.60" y2="109.00" stroke="#262626" stroke-width="1.2" stroke-opacity="0.8"/>
<text transform="translate(634.80 117.50) scale(0.8810 1)" font-size="24.00" text-anchor="start" font-family="Liberation Sans, Arial, sans-serif" font-weight="bold" fill="#262626" text-rendering="geometricPrecision">0.8</text>
<line x1="625.60" y1="60.25" x2="628.60" y2="60.25" stroke="#262626" stroke-width="1.2" stroke-opacity="0.8"/>
<text transform="translate(634.80 68.75) scale(0.8810 1)" font-size="24.00" text-anchor="start" font-family="Liberation Sans, Arial, sans-serif" font-weight="bold" fill="#262626" text-rendering="geometricPrecision">0.9</text>
<rect x="593.20" y="12.10" width="34.80" height="486.30" fill="none" stroke="#262626" stroke-opacity="0.55" stroke-width="1.2"/>
<text transform="translate(785.50 20.10) scale(0.9130 1)" font-size="24.30" text-anchor="end" font-family="Liberation Sans, Arial, sans-serif" font-weight="bold" fill="#262626" text-rendering="geometricPrecision">1555</text>
<text transform="translate(785.50 262.90) scale(0.9130 1)" font-size="24.30" text-anchor="end" font-family="Liberation Sans, Arial, sans-serif" font-weight="bold" fill="#262626" text-rendering="geometricPrecision">1550</text>
<text transform="translate(785.50 506.10) scale(0.9130 1)" font-size="24.30" text-anchor="end" font-family="Liberation Sans, Arial, sans-serif" font-weight="bold" fill="#262626" text-rendering="geometricPrecision">1545</text>
<text transform="translate(792.60 530.20) scale(0.9050 1)" font-size="24.30" text-anchor="middle" font-family="Liberation Sans, Arial, sans-serif" font-weight="bold" fill="#262626" text-rendering="geometricPrecision">1545</text>
<text transform="translate(1021.30 530.20) scale(0.9050 1)" font-size="24.30" text-anchor="middle" font-family="Liberation Sans, Arial, sans-serif" font-weight="bold" fill="#262626" text-rendering="geometricPrecision">1550</text>
<text transform="translate(1249.20 530.20) scale(0.9050 1)" font-size="24.30" text-anchor="middle" font-family="Liberation Sans, Arial, sans-serif" font-weight="bold" fill="#262626" text-rendering="geometricPrecision">1555</text>
<text transform="translate(1021.30 573.20) scale(0.8925 1)" font-size="35.00" text-anchor="middle" font-family="Liberation Sans, Arial, sans-serif" font-weight="bold" fill="#262626" text-rendering="geometricPrecision">Signal wavelength (m)</text>
<text transform="translate(723.60 253.20) scale(0.8750 1) rotate(-90)" font-size="35.22" text-anchor="middle" font-family="Liberation Sans, Arial, sans-serif" font-weight="bold" fill="#262626" text-rendering="geometricPrecision">Idler wavelength (m)</text>
<rect x="1290.20" y="11.50" width="36.00" height="487.50" fill="url(#cbg)"/>
<line x1="1323.20" y1="492.10" x2="1326.20" y2="492.10" stroke="#262626" stroke-width="1.2" stroke-opacity="0.8"/>
<text transform="translate(1332.40 500.60) scale(0.8810 1)" font-size="24.00" text-anchor="start" font-family="Liberation Sans, Arial, sans-serif" font-weight="bold" fill="#262626" text-rendering="geometricPrecision">-0.2</text>
<line x1="1323.20" y1="412.00" x2="1326.20" y2="412.00" stroke="#262626" stroke-width="1.2" stroke-opacity="0.8"/>
<text transform="translate(1332.40 420.50) scale(0.8810 1)" font-size="24.00" text-anchor="start" font-family="Liberation Sans, Arial, sans-serif" font-weight="bold" fill="#262626" text-rendering="geometricPrecision">0</text>
<line x1="1323.20" y1="331.90" x2="1326.20" y2="331.90" stroke="#262626" stroke-width="1.2" stroke-opacity="0.8"/>
<text transform="translate(1332.40 340.40) scale(0.8810 1)" font-size="24.00" text-anchor="start" font-family="Liberation Sans, Arial, sans-serif" font-weight="bold" fill="#262626" text-rendering="geometricPrecision">0.2</text>
<line x1="1323.20" y1="251.80" x2="1326.20" y2="251.80" stroke="#262626" stroke-width="1.2" stroke-opacity="0.8"/>
<text transform="translate(1332.40 260.30) scale(0.8810 1)" font-size="24.00" text-anchor="start" font-family="Liberation Sans, Arial, sans-serif" font-weight="bold" fill="#262626" text-rendering="geometricPrecision">0.4</text>
<line x1="1323.20" y1="171.70" x2="1326.20" y2="171.70" stroke="#262626" stroke-width="1.2" stroke-opacity="0.8"/>
<text transform="translate(1332.40 180.20) scale(0.8810 1)" font-size="24.00" text-anchor="start" font-family="Liberation Sans, Arial, sans-serif" font-weight="bold" fill="#262626" text-rendering="geometricPrecision">0.6</text>
<line x1="1323.20" y1="91.60" x2="1326.20" y2="91.60" stroke="#262626" stroke-width="1.2" stroke-opacity="0.8"/>
<text transform="translate(1332.40 100.10) scale(0.8810 1)" font-size="24.00" text-anchor="start" font-family="Liberation Sans, Arial, sans-serif" font-weight="bold" fill="#262626" text-rendering="geometricPrecision">0.8</text>
<rect x="1290.80" y="12.10" width="34.80" height="486.30" fill="none" stroke="#262626" stroke-opacity="0.55" stroke-width="1.2"/>
<text transform="translate(1484.10 20.10) scale(0.9130 1)" font-size="24.30" text-anchor="end" font-family="Liberation Sans, Arial, sans-serif" font-weight="bold" fill="#262626" text-rendering="geometricPrecision">1555</text>
<text transform="translate(1484.10 262.90) scale(0.9130 1)" font-size="24.30" text-anchor="end" font-family="Liberation Sans, Arial, sans-serif" font-weight="bold" fill="#262626" text-rendering="geometricPrecision">1550</text>
<text transform="translate(1484.10 506.10) scale(0.9130 1)" font-size="24.30" text-anchor="end" font-family="Liberation Sans, Arial, sans-serif" font-weight="bold" fill="#262626" text-rendering="geometricPrecision">1545</text>
<text transform="translate(1491.20 530.20) scale(0.9050 1)" font-size="24.30" text-anchor="middle" font-family="Liberation Sans, Arial, sans-serif" font-weight="bold" fill="#262626" text-rendering="geometricPrecision">1545</text>
<text transform="translate(1719.90 530.20) scale(0.9050 1)" font-size="24.30" text-anchor="middle" font-family="Liberation Sans, Arial, sans-serif" font-weight="bold" fill="#262626" text-rendering="geometricPrecision">1550</text>
<text transform="translate(1947.80 530.20) scale(0.9050 1)" font-size="24.30" text-anchor="middle" font-family="Liberation Sans, Arial, sans-serif" font-weight="bold" fill="#262626" text-rendering="geometricPrecision">1555</text>
<text transform="translate(1719.90 573.20) scale(0.8925 1)" font-size="35.00" text-anchor="middle" font-family="Liberation Sans, Arial, sans-serif" font-weight="bold" fill="#262626" text-rendering="geometricPrecision">Signal wavelength (m)</text>
<text transform="translate(1422.20 253.20) scale(0.8750 1) rotate(-90)" font-size="35.22" text-anchor="middle" font-family="Liberation Sans, Arial, sans-serif" font-weight="bold" fill="#262626" text-rendering="geometricPrecision">Idler wavelength (m)</text>
<rect x="1988.80" y="11.50" width="36.00" height="487.50" fill="url(#cbg)"/>
<line x1="2021.80" y1="492.10" x2="2024.80" y2="492.10" stroke="#262626" stroke-width="1.2" stroke-opacity="0.8"/>
<text transform="translate(2031.00 500.60) scale(0.8810 1)" font-size="24.00" text-anchor="start" font-family="Liberation Sans, Arial, sans-serif" font-weight="bold" fill="#262626" text-rendering="geometricPrecision">-0.2</text>
<line x1="2021.80" y1="412.00" x2="2024.80" y2="412.00" stroke="#262626" stroke-width="1.2" stroke-opacity="0.8"/>
<text transform="translate(2031.00 420.50) scale(0.8810 1)" font-size="24.00" text-anchor="start" font-family="Liberation Sans, Arial, sans-serif" font-weight="bold" fill="#262626" text-rendering="geometricPrecision">0</text>
<line x1="2021.80" y1="331.90" x2="2024.80" y2="331.90" stroke="#262626" stroke-width="1.2" stroke-opacity="0.8"/>
<text transform="translate(2031.00 340.40) scale(0.8810 1)" font-size="24.00" text-anchor="start" font-family="Liberation Sans, Arial, sans-serif" font-weight="bold" fill="#262626" text-rendering="geometricPrecision">0.2</text>
<line x1="2021.80" y1="251.80" x2="2024.80" y2="251.80" stroke="#262626" stroke-width="1.2" stroke-opacity="0.8"/>
<text transform="translate(2031.00 260.30) scale(0.8810 1)" font-size="24.00" text-anchor="start" font-family="Liberation Sans, Arial, sans-serif" font-weight="bold" fill="#262626" text-rendering="geometricPrecision">0.4</text>
<line x1="2021.80" y1="171.70" x2="2024.80" y2="171.70" stroke="#262626" stroke-width="1.2" stroke-opacity="0.8"/>
<text transform="translate(2031.00 180.20) scale(0.8810 1)" font-size="24.00" text-anchor="start" font-family="Liberation Sans, Arial, sans-serif" font-weight="bold" fill="#262626" text-rendering="geometricPrecision">0.6</text>
<line x1="2021.80" y1="91.60" x2="2024.80" y2="91.60" stroke="#262626" stroke-width="1.2" stroke-opacity="0.8"/>
<text transform="translate(2031.00 100.10) scale(0.8810 1)" font-size="24.00" text-anchor="start" font-family="Liberation Sans, Arial, sans-serif" font-weight="bold" fill="#262626" text-rendering="geometricPrecision">0.8</text>
<rect x="1989.40" y="12.10" width="34.80" height="486.30" fill="none" stroke="#262626" stroke-opacity="0.55" stroke-width="1.2"/>
<text transform="translate(87.90 635.40) scale(0.9130 1)" font-size="24.30" text-anchor="end" font-family="Liberation Sans, Arial, sans-serif" font-weight="bold" fill="#262626" text-rendering="geometricPrecision">1555</text>
<text transform="translate(87.90 878.30) scale(0.9130 1)" font-size="24.30" text-anchor="end" font-family="Liberation Sans, Arial, sans-serif" font-weight="bold" fill="#262626" text-rendering="geometricPrecision">1550</text>
<text transform="translate(87.90 1121.60) scale(0.9130 1)" font-size="24.30" text-anchor="end" font-family="Liberation Sans, Arial, sans-serif" font-weight="bold" fill="#262626" text-rendering="geometricPrecision">1545</text>
<text transform="translate(95.00 1145.70) scale(0.9050 1)" font-size="24.30" text-anchor="middle" font-family="Liberation Sans, Arial, sans-serif" font-weight="bold" fill="#262626" text-rendering="geometricPrecision">1545</text>
<text transform="translate(323.70 1145.70) scale(0.9050 1)" font-size="24.30" text-anchor="middle" font-family="Liberation Sans, Arial, sans-serif" font-weight="bold" fill="#262626" text-rendering="geometricPrecision">1550</text>
<text transform="translate(551.60 1145.70) scale(0.9050 1)" font-size="24.30" text-anchor="middle" font-family="Liberation Sans, Arial, sans-serif" font-weight="bold" fill="#262626" text-rendering="geometricPrecision">1555</text>
<text transform="translate(323.70 1188.70) scale(0.8925 1)" font-size="35.00" text-anchor="middle" font-family="Liberation Sans, Arial, sans-serif" font-weight="bold" fill="#262626" text-rendering="geometricPrecision">Signal wavelength (m)</text>
<text transform="translate(26.00 868.60) scale(0.8750 1) rotate(-90)" font-size="35.22" text-anchor="middle" font-family="Liberation Sans, Arial, sans-serif" font-weight="bold" fill="#262626" text-rendering="geometricPrecision">Idler wavelength (m)</text>
<rect x="592.60" y="626.80" width="36.00" height="487.70" fill="url(#cbg)"/>
<line x1="625.60" y1="1114.50" x2="628.60" y2="1114.50" stroke="#262626" stroke-width="1.2" stroke-opacity="0.8"/>
<text transform="translate(634.80 1123.00) scale(0.8810 1)" font-size="24.00" text-anchor="start" font-family="Liberation Sans, Arial, sans-serif" font-weight="bold" fill="#262626" text-rendering="geometricPrecision">0</text>
<line x1="625.60" y1="1065.73" x2="628.60" y2="1065.73" stroke="#262626" stroke-width="1.2" stroke-opacity="0.8"/>
<text transform="translate(634.80 1074.23) scale(0.8810 1)" font-size="24.00" text-anchor="start" font-family="Liberation Sans, Arial, sans-serif" font-weight="bold" fill="#262626" text-rendering="geometricPrecision">0.1</text>
<line x1="625.60" y1="1016.96" x2="628.60" y2="1016.96" stroke="#262626" stroke-width="1.2" stroke-opacity="0.8"/>
<text transform="translate(634.80 1025.46) scale(0.8810 1)" font-size="24.00" text-anchor="start" font-family="Liberation Sans, Arial, sans-serif" font-weight="bold" fill="#262626" text-rendering="geometricPrecision">0.2</text>
<line x1="625.60" y1="968.19" x2="628.60" y2="968.19" stroke="#262626" stroke-width="1.2" stroke-opacity="0.8"/>
<text transform="translate(634.80 976.69) scale(0.8810 1)" font-size="24.00" text-anchor="start" font-family="Liberation Sans, Arial, sans-serif" font-weight="bold" fill="#262626" text-rendering="geometricPrecision">0.3</text>
<line x1="625.60" y1="919.42" x2="628.60" y2="919.42" stroke="#262626" stroke-width="1.2" stroke-opacity="0.8"/>
<text transform="translate(634.80 927.92) scale(0.8810 1)" font-size="24.00" text-anchor="start" font-family="Liberation Sans, Arial, sans-serif" font-weight="bold" fill="#262626" text-rendering="geometricPrecision">0.4</text>
<line x1="625.60" y1="870.65" x2="628.60" y2="870.65" stroke="#262626" stroke-width="1.2" stroke-opacity="0.8"/>
<text transform="translate(634.80 879.15) scale(0.8810 1)" font-size="24.00" text-anchor="start" font-family="Liberation Sans, Arial, sans-serif" font-weight="bold" fill="#262626" text-rendering="geometricPrecision">0.5</text>
<line x1="625.60" y1="821.88" x2="628.60" y2="821.88" stroke="#262626" stroke-width="1.2" stroke-opacity="0.8"/>
<text transform="translate(634.80 830.38) scale(0.8810 1)" font-size="24.00" text-anchor="start" font-family="Liberation Sans, Arial, sans-serif" font-weight="bold" fill="#262626" text-rendering="geometricPrecision">0.6</text>
<line x1="625.60" y1="773.11" x2="628.60" y2="773.11" stroke="#262626" stroke-width="1.2" stroke-opacity="0.8"/>
<text transform="translate(634.80 781.61) scale(0.8810 1)" font-size="24.00" text-anchor="start" font-family="Liberation Sans, Arial, sans-serif" font-weight="bold" fill="#262626" text-rendering="geometricPrecision">0.7</text>
<line x1="625.60" y1="724.34" x2="628.60" y2="724.34" stroke="#262626" stroke-width="1.2" stroke-opacity="0.8"/>
<text transform="translate(634.80 732.84) scale(0.8810 1)" font-size="24.00" text-anchor="start" font-family="Liberation Sans, Arial, sans-serif" font-weight="bold" fill="#262626" text-rendering="geometricPrecision">0.8</text>
<line x1="625.60" y1="675.57" x2="628.60" y2="675.57" stroke="#262626" stroke-width="1.2" stroke-opacity="0.8"/>
<text transform="translate(634.80 684.07) scale(0.8810 1)" font-size="24.00" text-anchor="start" font-family="Liberation Sans, Arial, sans-serif" font-weight="bold" fill="#262626" text-rendering="geometricPrecision">0.9</text>
<rect x="593.20" y="627.40" width="34.80" height="486.50" fill="none" stroke="#262626" stroke-opacity="0.55" stroke-width="1.2"/>
<text transform="translate(785.50 635.40) scale(0.9130 1)" font-size="24.30" text-anchor="end" font-family="Liberation Sans, Arial, sans-serif" font-weight="bold" fill="#262626" text-rendering="geometricPrecision">1555</text>
<text transform="translate(785.50 878.30) scale(0.9130 1)" font-size="24.30" text-anchor="end" font-family="Liberation Sans, Arial, sans-serif" font-weight="bold" fill="#262626" text-rendering="geometricPrecision">1550</text>
<text transform="translate(785.50 1121.60) scale(0.9130 1)" font-size="24.30" text-anchor="end" font-family="Liberation Sans, Arial, sans-serif" font-weight="bold" fill="#262626" text-rendering="geometricPrecision">1545</text>
<text transform="translate(792.60 1145.70) scale(0.9050 1)" font-size="24.30" text-anchor="middle" font-family="Liberation Sans, Arial, sans-serif" font-weight="bold" fill="#262626" text-rendering="geometricPrecision">1545</text>
<text transform="translate(1021.30 1145.70) scale(0.9050 1)" font-size="24.30" text-anchor="middle" font-family="Liberation Sans, Arial, sans-serif" font-weight="bold" fill="#262626" text-rendering="geometricPrecision">1550</text>
<text transform="translate(1249.20 1145.70) scale(0.9050 1)" font-size="24.30" text-anchor="middle" font-family="Liberation Sans, Arial, sans-serif" font-weight="bold" fill="#262626" text-rendering="geometricPrecision">1555</text>
<text transform="translate(1021.30 1188.70) scale(0.8925 1)" font-size="35.00" text-anchor="middle" font-family="Liberation Sans, Arial, sans-serif" font-weight="bold" fill="#262626" text-rendering="geometricPrecision">Signal wavelength (m)</text>
<text transform="translate(723.60 868.60) scale(0.8750 1) rotate(-90)" font-size="35.22" text-anchor="middle" font-family="Liberation Sans, Arial, sans-serif" font-weight="bold" fill="#262626" text-rendering="geometricPrecision">Idler wavelength (m)</text>
<rect x="1290.20" y="626.80" width="36.00" height="487.70" fill="url(#cbg)"/>
<line x1="1323.20" y1="1065.73" x2="1326.20" y2="1065.73" stroke="#262626" stroke-width="1.2" stroke-opacity="0.8"/>
<text transform="translate(1332.40 1074.23) scale(0.8810 1)" font-size="24.00" text-anchor="start" font-family="Liberation Sans, Arial, sans-serif" font-weight="bold" fill="#262626" text-rendering="geometricPrecision">0.1</text>
<line x1="1323.20" y1="1016.96" x2="1326.20" y2="1016.96" stroke="#262626" stroke-width="1.2" stroke-opacity="0.8"/>
<text transform="translate(1332.40 1025.46) scale(0.8810 1)" font-size="24.00" text-anchor="start" font-family="Liberation Sans, Arial, sans-serif" font-weight="bold" fill="#262626" text-rendering="geometricPrecision">0.2</text>
<line x1="1323.20" y1="968.19" x2="1326.20" y2="968.19" stroke="#262626" stroke-width="1.2" stroke-opacity="0.8"/>
<text transform="translate(1332.40 976.69) scale(0.8810 1)" font-size="24.00" text-anchor="start" font-family="Liberation Sans, Arial, sans-serif" font-weight="bold" fill="#262626" text-rendering="geometricPrecision">0.3</text>
<line x1="1323.20" y1="919.42" x2="1326.20" y2="919.42" stroke="#262626" stroke-width="1.2" stroke-opacity="0.8"/>
<text transform="translate(1332.40 927.92) scale(0.8810 1)" font-size="24.00" text-anchor="start" font-family="Liberation Sans, Arial, sans-serif" font-weight="bold" fill="#262626" text-rendering="geometricPrecision">0.4</text>
<line x1="1323.20" y1="870.65" x2="1326.20" y2="870.65" stroke="#262626" stroke-width="1.2" stroke-opacity="0.8"/>
<text transform="translate(1332.40 879.15) scale(0.8810 1)" font-size="24.00" text-anchor="start" font-family="Liberation Sans, Arial, sans-serif" font-weight="bold" fill="#262626" text-rendering="geometricPrecision">0.5</text>
<line x1="1323.20" y1="821.88" x2="1326.20" y2="821.88" stroke="#262626" stroke-width="1.2" stroke-opacity="0.8"/>
<text transform="translate(1332.40 830.38) scale(0.8810 1)" font-size="24.00" text-anchor="start" font-family="Liberation Sans, Arial, sans-serif" font-weight="bold" fill="#262626" text-rendering="geometricPrecision">0.6</text>
<line x1="1323.20" y1="773.11" x2="1326.20" y2="773.11" stroke="#262626" stroke-width="1.2" stroke-opacity="0.8"/>
<text transform="translate(1332.40 781.61) scale(0.8810 1)" font-size="24.00" text-anchor="start" font-family="Liberation Sans, Arial, sans-serif" font-weight="bold" fill="#262626" text-rendering="geometricPrecision">0.7</text>
<line x1="1323.20" y1="724.34" x2="1326.20" y2="724.34" stroke="#262626" stroke-width="1.2" stroke-opacity="0.8"/>
<text transform="translate(1332.40 732.84) scale(0.8810 1)" font-size="24.00" text-anchor="start" font-family="Liberation Sans, Arial, sans-serif" font-weight="bold" fill="#262626" text-rendering="geometricPrecision">0.8</text>
<line x1="1323.20" y1="675.57" x2="1326.20" y2="675.57" stroke="#262626" stroke-width="1.2" stroke-opacity="0.8"/>
<text transform="translate(1332.40 684.07) scale(0.8810 1)" font-size="24.00" text-anchor="start" font-family="Liberation Sans, Arial, sans-serif" font-weight="bold" fill="#262626" text-rendering="geometricPrecision">0.9</text>
<rect x="1290.80" y="627.40" width="34.80" height="486.50" fill="none" stroke="#262626" stroke-opacity="0.55" stroke-width="1.2"/>
<text transform="translate(1484.10 635.40) scale(0.9130 1)" font-size="24.30" text-anchor="end" font-family="Liberation Sans, Arial, sans-serif" font-weight="bold" fill="#262626" text-rendering="geometricPrecision">1555</text>
<text transform="translate(1484.10 878.30) scale(0.9130 1)" font-size="24.30" text-anchor="end" font-family="Liberation Sans, Arial, sans-serif" font-weight="bold" fill="#262626" text-rendering="geometricPrecision">1550</text>
<text transform="translate(1484.10 1121.60) scale(0.9130 1)" font-size="24.30" text-anchor="end" font-family="Liberation Sans, Arial, sans-serif" font-weight="bold" fill="#262626" text-rendering="geometricPrecision">1545</text>
<text transform="translate(1491.20 1145.70) scale(0.9050 1)" font-size="24.30" text-anchor="middle" font-family="Liberation Sans, Arial, sans-serif" font-weight="bold" fill="#262626" text-rendering="geometricPrecision">1545</text>
<text transform="translate(1719.90 1145.70) scale(0.9050 1)" font-size="24.30" text-anchor="middle" font-family="Liberation Sans, Arial, sans-serif" font-weight="bold" fill="#262626" text-rendering="geometricPrecision">1550</text>
<text transform="translate(1947.80 1145.70) scale(0.9050 1)" font-size="24.30" text-anchor="middle" font-family="Liberation Sans, Arial, sans-serif" font-weight="bold" fill="#262626" text-rendering="geometricPrecision">1555</text>
<text transform="translate(1719.90 1188.70) scale(0.8925 1)" font-size="35.00" text-anchor="middle" font-family="Liberation Sans, Arial, sans-serif" font-weight="bold" fill="#262626" text-rendering="geometricPrecision">Signal wavelength (m)</text>
<text transform="translate(1422.20 868.60) scale(0.8750 1) rotate(-90)" font-size="35.22" text-anchor="middle" font-family="Liberation Sans, Arial, sans-serif" font-weight="bold" fill="#262626" text-rendering="geometricPrecision">Idler wavelength (m)</text>
<rect x="1988.80" y="626.80" width="36.00" height="487.70" fill="url(#cbg)"/>
<line x1="2021.80" y1="1114.50" x2="2024.80" y2="1114.50" stroke="#262626" stroke-width="1.2" stroke-opacity="0.8"/>
<text transform="translate(2031.00 1123.00) scale(0.8810 1)" font-size="24.00" text-anchor="start" font-family="Liberation Sans, Arial, sans-serif" font-weight="bold" fill="#262626" text-rendering="geometricPrecision">0</text>
<line x1="2021.80" y1="1065.73" x2="2024.80" y2="1065.73" stroke="#262626" stroke-width="1.2" stroke-opacity="0.8"/>
<text transform="translate(2031.00 1074.23) scale(0.8810 1)" font-size="24.00" text-anchor="start" font-family="Liberation Sans, Arial, sans-serif" font-weight="bold" fill="#262626" text-rendering="geometricPrecision">0.1</text>
<line x1="2021.80" y1="1016.96" x2="2024.80" y2="1016.96" stroke="#262626" stroke-width="1.2" stroke-opacity="0.8"/>
<text transform="translate(2031.00 1025.46) scale(0.8810 1)" font-size="24.00" text-anchor="start" font-family="Liberation Sans, Arial, sans-serif" font-weight="bold" fill="#262626" text-rendering="geometricPrecision">0.2</text>
<line x1="2021.80" y1="968.19" x2="2024.80" y2="968.19" stroke="#262626" stroke-width="1.2" stroke-opacity="0.8"/>
<text transform="translate(2031.00 976.69) scale(0.8810 1)" font-size="24.00" text-anchor="start" font-family="Liberation Sans, Arial, sans-serif" font-weight="bold" fill="#262626" text-rendering="geometricPrecision">0.3</text>
<line x1="2021.80" y1="919.42" x2="2024.80" y2="919.42" stroke="#262626" stroke-width="1.2" stroke-opacity="0.8"/>
<text transform="translate(2031.00 927.92) scale(0.8810 1)" font-size="24.00" text-anchor="start" font-family="Liberation Sans, Arial, sans-serif" font-weight="bold" fill="#262626" text-rendering="geometricPrecision">0.4</text>
<line x1="2021.80" y1="870.65" x2="2024.80" y2="870.65" stroke="#262626" stroke-width="1.2" stroke-opacity="0.8"/>
<text transform="translate(2031.00 879.15) scale(0.8810 1)" font-size="24.00" text-anchor="start" font-family="Liberation Sans, Arial, sans-serif" font-weight="bold" fill="#262626" text-rendering="geometricPrecision">0.5</text>
<line x1="2021.80" y1="821.88" x2="2024.80" y2="821.88" stroke="#262626" stroke-width="1.2" stroke-opacity="0.8"/>
<text transform="translate(2031.00 830.38) scale(0.8810 1)" font-size="24.00" text-anchor="start" font-family="Liberation Sans, Arial, sans-serif" font-weight="bold" fill="#262626" text-rendering="geometricPrecision">0.6</text>
<line x1="2021.80" y1="773.11" x2="2024.80" y2="773.11" stroke="#262626" stroke-width="1.2" stroke-opacity="0.8"/>
<text transform="translate(2031.00 781.61) scale(0.8810 1)" font-size="24.00" text-anchor="start" font-family="Liberation Sans, Arial, sans-serif" font-weight="bold" fill="#262626" text-rendering="geometricPrecision">0.7</text>
<line x1="2021.80" y1="724.34" x2="2024.80" y2="724.34" stroke="#262626" stroke-width="1.2" stroke-opacity="0.8"/>
<text transform="translate(2031.00 732.84) scale(0.8810 1)" font-size="24.00" text-anchor="start" font-family="Liberation Sans, Arial, sans-serif" font-weight="bold" fill="#262626" text-rendering="geometricPrecision">0.8</text>
<line x1="2021.80" y1="675.57" x2="2024.80" y2="675.57" stroke="#262626" stroke-width="1.2" stroke-opacity="0.8"/>
<text transform="translate(2031.00 684.07) scale(0.8810 1)" font-size="24.00" text-anchor="start" font-family="Liberation Sans, Arial, sans-serif" font-weight="bold" fill="#262626" text-rendering="geometricPrecision">0.9</text>
<rect x="1989.40" y="627.40" width="34.80" height="486.50" fill="none" stroke="#262626" stroke-opacity="0.55" stroke-width="1.2"/>
<text transform="translate(314.75 64.75) scale(1.0 1)" font-size="45" text-anchor="middle" font-family="Liberation Serif, serif" font-weight="bold" fill="#ffffff">(a)</text>
<text transform="translate(1024.15 49.85) scale(1.0 1)" font-size="45" text-anchor="middle" font-family="Liberation Serif, serif" font-weight="bold" fill="#ffffff">(b)</text>
<text transform="translate(1719.80 49.80) scale(1.0 1)" font-size="45" text-anchor="middle" font-family="Liberation Serif, serif" font-weight="bold" fill="#ffffff">(c)</text>
<text transform="translate(316.10 672.45) scale(1.0 1)" font-size="45" text-anchor="middle" font-family="Liberation Serif, serif" font-weight="bold" fill="#ffffff">(d)</text>
<text transform="translate(1023.40 672.45) scale(1.0 1)" font-size="45" text-anchor="middle" font-family="Liberation Serif, serif" font-weight="bold" fill="#ffffff">(e)</text>
<text transform="translate(1718.90 671.50) scale(1.0 1)" font-size="45" text-anchor="middle" font-family="Liberation Serif, serif" font-weight="bold" fill="#ffffff">(f)</text>
<line x1="282.90" y1="122.10" x2="261.68" y2="144.48" stroke="#dcd8ff" stroke-width="1.6" stroke-linecap="round"/><polygon points="251.70,155.00 257.10,137.39 269.00,148.67" fill="#eef8ee"/>
<line x1="196.70" y1="210.00" x2="214.80" y2="190.28" stroke="#dcd8ff" stroke-width="1.6" stroke-linecap="round"/><polygon points="224.60,179.60 219.48,197.30 207.40,186.21" fill="#eef8ee"/>
<line x1="995.60" y1="160.00" x2="975.75" y2="196.05" stroke="#c8f0ff" stroke-width="1.6" stroke-linecap="round"/><polygon points="968.75,208.75 969.53,190.34 983.89,198.25" fill="#eef8ee"/>
<line x1="921.90" y1="293.10" x2="942.41" y2="255.81" stroke="#c8f0ff" stroke-width="1.6" stroke-linecap="round"/><polygon points="949.40,243.10 948.63,261.51 934.26,253.61" fill="#eef8ee"/>
<text transform="translate(282 174.8) scale(0.879 1)" font-size="43.3" font-weight="bold" font-family="Liberation Serif, serif" fill="#ffffff">Width</text>
<text transform="translate(396.90 176.10) scale(0.7230 1)" font-size="37.60" font-weight="bold" font-family="Liberation Serif, Noto Serif CJK SC, serif" fill="#ffffff" stroke="#ffffff" stroke-width="1.8">∝</text>
<text transform="translate(432.6 175.4) scale(1.085 1)" font-size="43.3" font-weight="bold" font-style="italic" font-family="Liberation Serif, serif" fill="#ffffff">σ</text>
<text transform="translate(453 183.1) scale(0.97 1)" font-size="30" font-weight="bold" font-style="italic" font-family="Liberation Serif, serif" fill="#ffffff">p.</text>
<text transform="translate(1017.4 205.8) scale(0.893 1)" font-size="42.3" font-family="Liberation Serif, serif" fill="#ffffff">Width</text>
<text transform="translate(1122.20 208.70) scale(0.6920 1)" font-size="38.80" font-family="Liberation Serif, Noto Serif CJK SC, serif" fill="#ffffff" stroke="#ffffff" stroke-width="0.8">∝</text>
<text transform="translate(1158.5 205.8) scale(0.937 1)" font-size="45.7" font-style="italic" font-family="Liberation Serif, serif" fill="#ffffff">1</text>
<text transform="translate(1178.5 206.1) scale(1.0 1)" font-size="45.4" font-style="italic" font-family="Liberation Serif, serif" fill="#ffffff">/</text>
<text transform="translate(1195.5 206.8) scale(0.944 1)" font-size="41" font-style="italic" font-family="DejaVu Sans, sans-serif" fill="#ffffff">ℒ</text>
</svg>
</body></html>
